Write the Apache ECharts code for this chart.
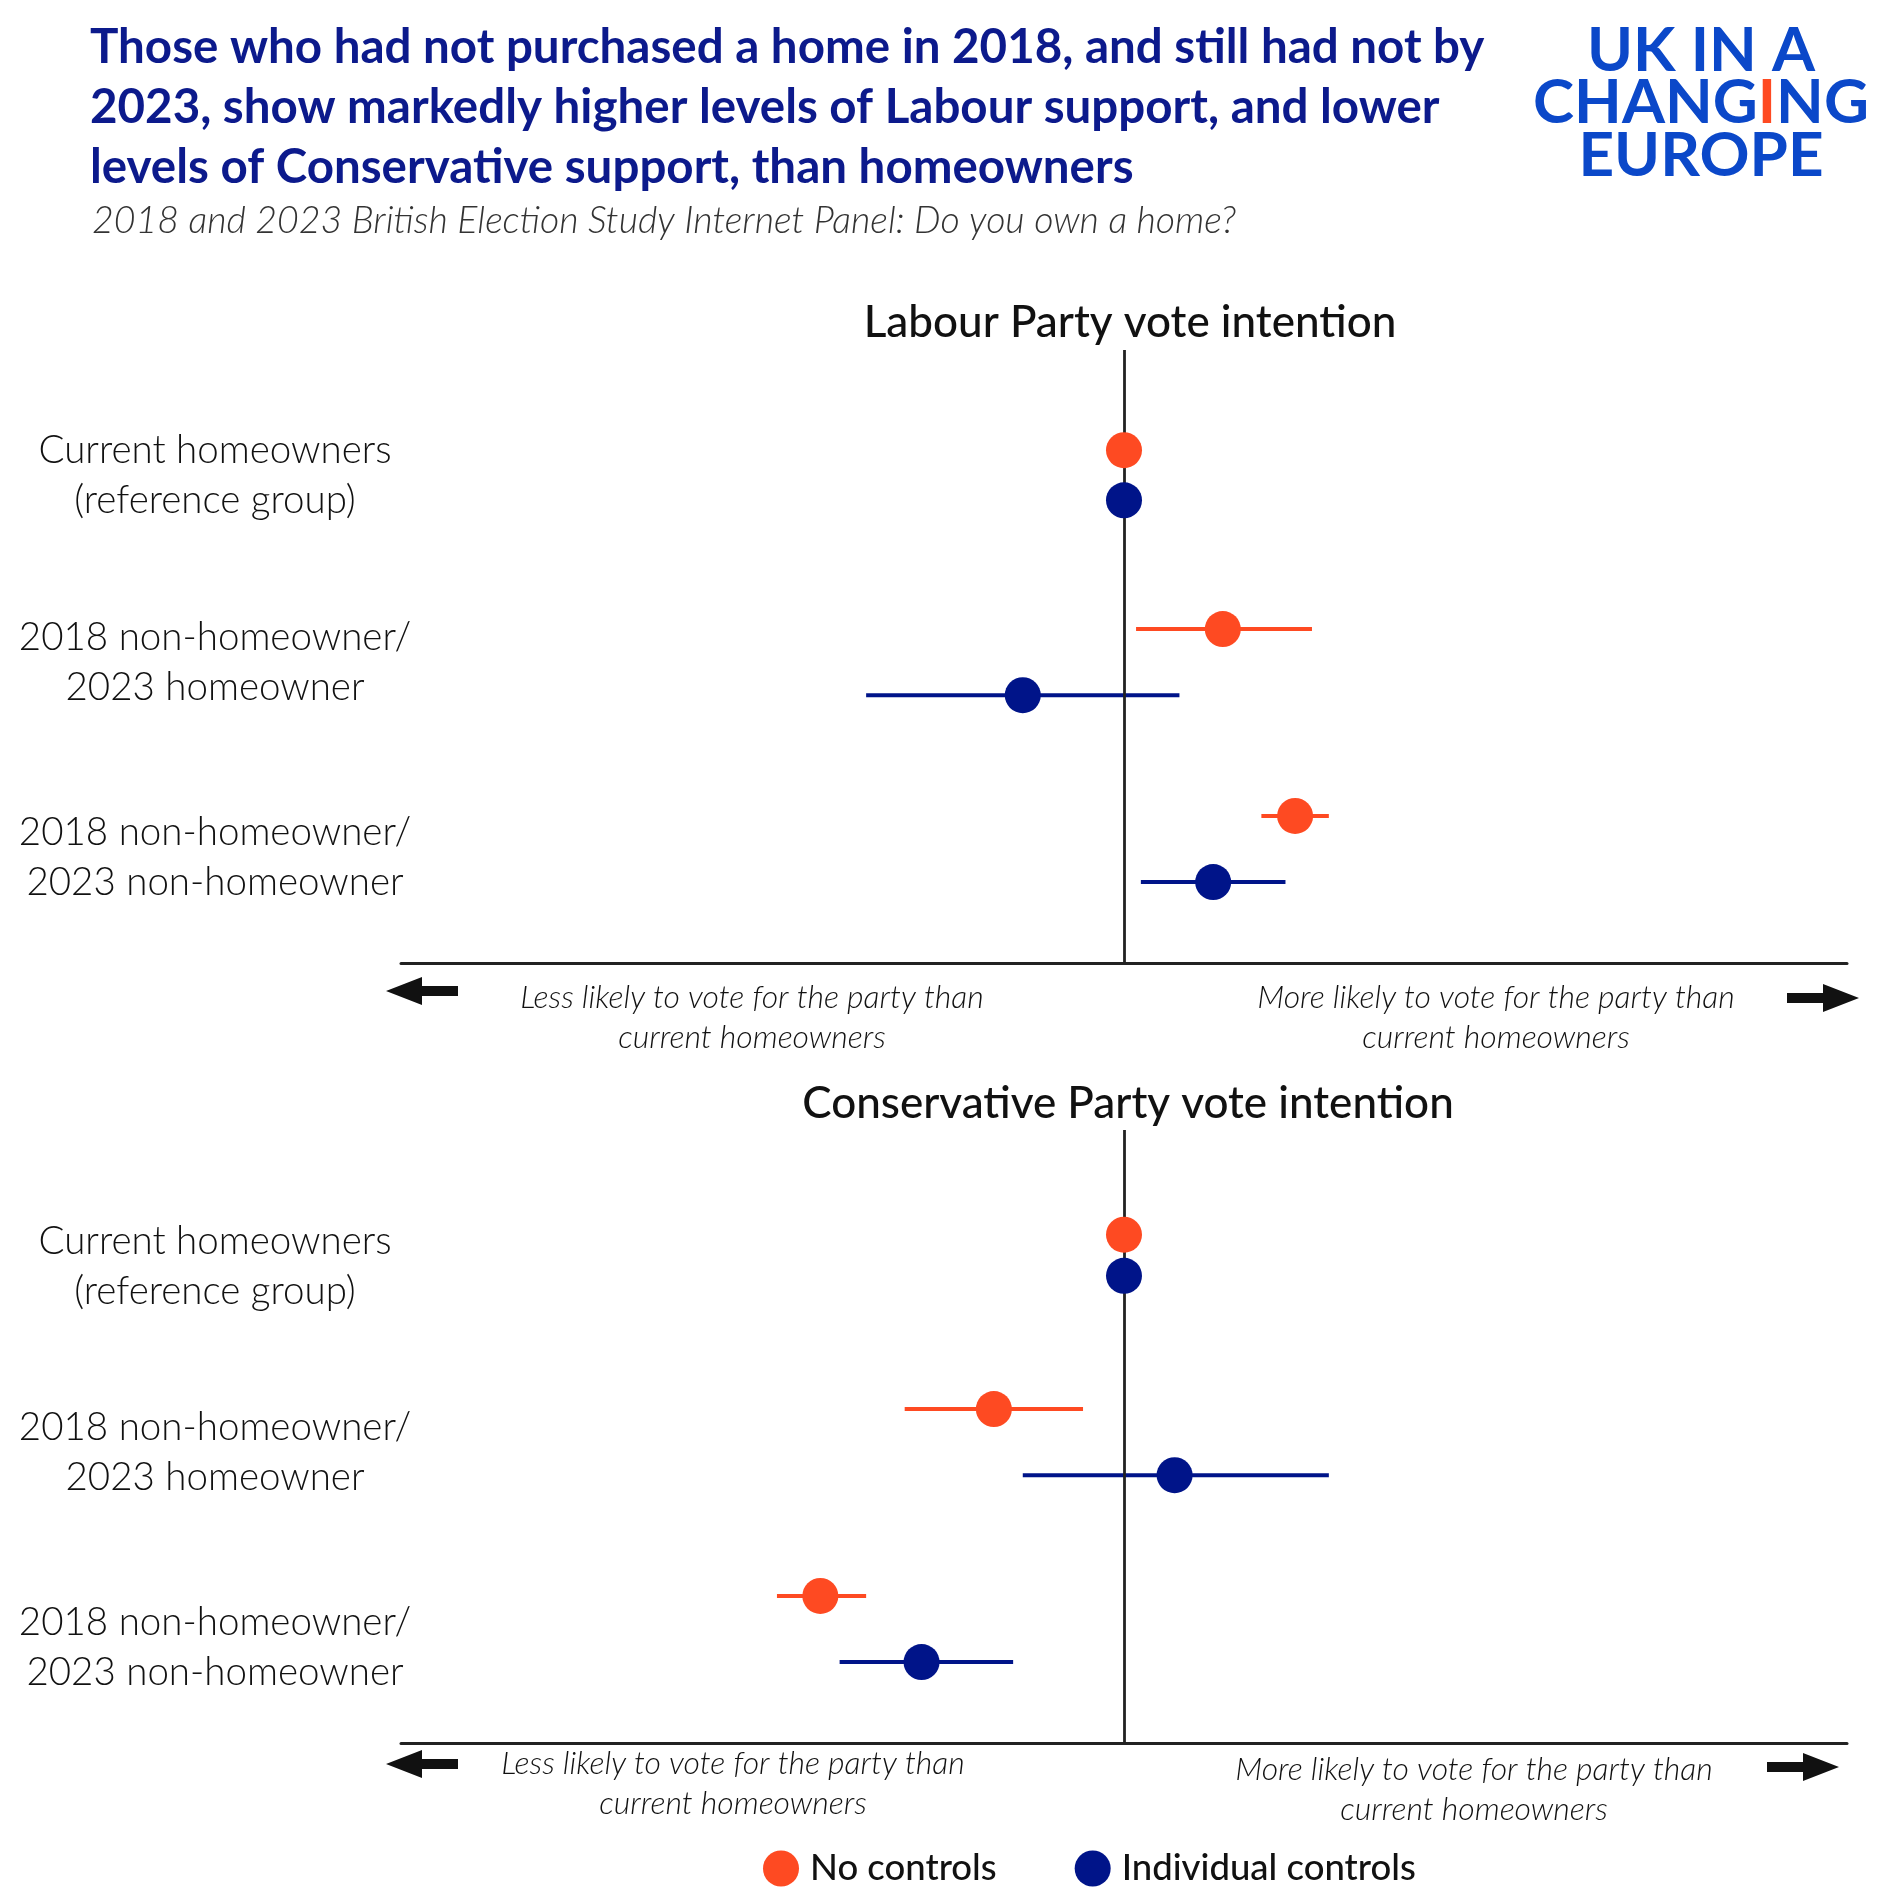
<!DOCTYPE html>
<html>
<head>
<meta charset="utf-8">
<title>Homeownership and vote intention</title>
<script src="https://cdn.jsdelivr.net/npm/echarts@6/dist/echarts.min.js"></script>
<style>
  html, body { margin: 0; padding: 0; background: #fff; }
  #chart { width: 1890px; height: 1890px; }
</style>
</head>
<body>
<div id="chart"></div>
<script>
// 分组标签
const groups = [
  'Current homeowners\n(reference group)',
  '2018 non-homeowner/\n2023 homeowner',
  '2018 non-homeowner/\n2023 non-homeowner'
]

// Labour: 点估计和置信区间（相对于现有房主）
const labourNoControls = [0, 0.041, 0.071]
const labourNoControlsLow = [null, 0.005, 0.057]
const labourNoControlsHigh = [null, 0.078, 0.085]
const labourIndividual = [0, -0.042, 0.037]
const labourIndividualLow = [null, -0.107, 0.007]
const labourIndividualHigh = [null, 0.023, 0.067]

// Conservative
const consNoControls = [0, -0.054, -0.126]
const consNoControlsLow = [null, -0.091, -0.144]
const consNoControlsHigh = [null, -0.017, -0.107]
const consIndividual = [0, 0.021, -0.084]
const consIndividualLow = [null, -0.042, -0.118]
const consIndividualHigh = [null, 0.085, -0.046]

const ORANGE = '#fe4a22'
const BLUE = '#001489'
const FONT = 'Lato'

const chart = echarts.init(document.getElementById('chart'))

// 同组内两个点的上下偏移
const pairGap = [[0.134, 0.177, 0.177], [0.11, 0.177, 0.177]]
// 标签的微调位置
const labelPos = [[0, 0, 0.045], [0.06, 0.055, 0.1]]

function points (values, panel, sign) {
  return values.map((v, i) => [v, i + sign * pairGap[panel][i]])
}

function bars (low, high, panel, sign) {
  const out = []
  low.forEach((l, i) => {
    if (l !== null) out.push([l, high[i], i + sign * pairGap[panel][i]])
  })
  return out
}

function errorBars (name, data, idx, color) {
  return {
    type: 'custom',
    name: name,
    xAxisIndex: idx,
    yAxisIndex: idx,
    z: 3,
    silent: true,
    encode: { x: [0, 1], y: 2 },
    data: data,
    renderItem: function (params, api) {
      const y = api.value(2)
      const a = api.coord([api.value(0), y])
      const b = api.coord([api.value(1), y])
      return {
        type: 'line',
        shape: { x1: a[0], y1: a[1], x2: b[0], y2: b[1] },
        style: { stroke: color, lineWidth: 4 }
      }
    }
  }
}

function dots (name, data, idx, color) {
  return {
    type: 'scatter',
    name: name,
    xAxisIndex: idx,
    yAxisIndex: idx,
    z: 5,
    symbol: 'circle',
    symbolSize: 36,
    itemStyle: { color: color, opacity: 1 },
    data: data
  }
}

function zeroLine (idx) {
  return {
    type: 'scatter',
    name: 'zero' + idx,
    xAxisIndex: idx,
    yAxisIndex: idx,
    z: 1,
    data: [],
    markLine: {
      silent: true,
      symbol: 'none',
      label: { show: false },
      lineStyle: { color: '#222', width: 2.8, type: 'solid' },
      data: [{ xAxis: 0 }]
    }
  }
}

function xAxisDef (idx) {
  return {
    gridIndex: idx,
    type: 'value',
    min: -0.3,
    max: 0.3,
    axisLine: { show: true, onZero: false, lineStyle: { color: '#222', width: 3 } },
    axisTick: { show: false },
    axisLabel: { show: false },
    splitLine: { show: false }
  }
}

function yAxisDef (idx) {
  return {
    gridIndex: idx,
    type: 'value',
    inverse: true,
    min: -0.67,
    max: 2.61,
    axisLine: { show: false, onZero: false },
    axisTick: { show: false },
    splitLine: { show: false },
    axisLabel: {
      customValues: labelPos[idx].map((d, i) => i + d),
      formatter: function (v) { return groups[Math.round(v)] },
      align: 'center',
      margin: 186,
      fontFamily: FONT,
      fontWeight: 300,
      fontSize: 38.5,
      lineHeight: 50,
      color: '#111'
    }
  }
}

function arrow (tipX, y, dir) {
  // dir = -1 向左, 1 向右
  const head = 36
  const len = 72
  const pts = [
    [tipX, y],
    [tipX - dir * head, y - 14],
    [tipX - dir * head, y - 5],
    [tipX - dir * len, y - 5],
    [tipX - dir * len, y + 5],
    [tipX - dir * head, y + 5],
    [tipX - dir * head, y + 14]
  ]
  return { type: 'polygon', shape: { points: pts }, style: { fill: '#111' }, silent: true }
}

function note (x, y, text) {
  return {
    type: 'text',
    x: x,
    y: y,
    silent: true,
    style: {
      text: text,
      align: 'center',
      verticalAlign: 'middle',
      fontFamily: FONT,
      fontStyle: 'italic',
      fontWeight: 300,
      fontSize: 32,
      lineHeight: 40,
      fill: '#111'
    }
  }
}

function label (x, y, text, size, weight, color, align) {
  return {
    type: 'text',
    x: x,
    y: y,
    silent: true,
    style: {
      text: text,
      align: align || 'center',
      verticalAlign: 'middle',
      fontFamily: FONT,
      fontWeight: weight,
      fontSize: size,
      fill: color
    }
  }
}

const less = 'Less likely to vote for the party than\ncurrent homeowners'
const more = 'More likely to vote for the party than\ncurrent homeowners'
const LOGO = '#0b48c9'

const option = {
  backgroundColor: '#fff',
  animation: false,
  textStyle: { fontFamily: FONT },
  grid: [
    { left: 401, right: 43, top: 350, height: 613 },
    { left: 401, right: 43, top: 1130, height: 613 }
  ],
  xAxis: [xAxisDef(0), xAxisDef(1)],
  yAxis: [yAxisDef(0), yAxisDef(1)],
  legend: {
    data: ['No controls', 'Individual controls'],
    left: 758,
    top: 1845,
    icon: 'circle',
    itemWidth: 36,
    itemHeight: 36,
    itemGap: 78,
    selectedMode: false,
    textStyle: { fontFamily: FONT, fontSize: 36.5, fontWeight: 500, color: '#111', padding: [0, 0, 0, 6] }
  },
  series: [
    zeroLine(0),
    zeroLine(1),
    errorBars('labourNoBars', bars(labourNoControlsLow, labourNoControlsHigh, 0, -1), 0, ORANGE),
    errorBars('labourIndBars', bars(labourIndividualLow, labourIndividualHigh, 0, 1), 0, BLUE),
    errorBars('consNoBars', bars(consNoControlsLow, consNoControlsHigh, 1, -1), 1, ORANGE),
    errorBars('consIndBars', bars(consIndividualLow, consIndividualHigh, 1, 1), 1, BLUE),
    dots('No controls', points(labourNoControls, 0, -1), 0, ORANGE),
    dots('Individual controls', points(labourIndividual, 0, 1), 0, BLUE),
    dots('No controls', points(consNoControls, 1, -1), 1, ORANGE),
    dots('Individual controls', points(consIndividual, 1, 1), 1, BLUE)
  ],
  graphic: [
    {
      type: 'text',
      left: 90,
      top: 18,
      silent: true,
      style: {
        text: 'Those who had not purchased a home in 2018, and still had not by\n2023, show markedly higher levels of Labour support, and lower\nlevels of Conservative support, than homeowners',
        fontFamily: FONT,
        fontWeight: 700,
        fontSize: 47.5,
        lineHeight: 60,
        fill: '#0c1a8c'
      }
    },
    {
      type: 'text',
      left: 92,
      top: 200,
      silent: true,
      style: {
        text: '2018 and 2023 British Election Study Internet Panel: Do you own a home?',
        fontFamily: FONT,
        fontStyle: 'italic',
        fontWeight: 300,
        fontSize: 37.5,
        lineHeight: 42,
        fill: '#333'
      }
    },
    // 右上角标志
    label(1701, 51, 'UK IN A', 62, 700, LOGO),
    {
      type: 'text',
      x: 1701,
      y: 103,
      silent: true,
      style: {
        text: '{b|CHANG}{o|I}{b|NG}',
        align: 'center',
        verticalAlign: 'middle',
        rich: {
          b: { fontFamily: FONT, fontWeight: 700, fontSize: 62, fill: LOGO },
          o: { fontFamily: FONT, fontWeight: 700, fontSize: 62, fill: ORANGE }
        }
      }
    },
    label(1701, 156, 'EUROPE', 62, 700, LOGO),
    label(1130, 323, 'Labour Party vote intention', 44, 500, '#111'),
    label(1128, 1104, 'Conservative Party vote intention', 44, 500, '#111'),
    note(752, 1018, less),
    note(1496, 1018, more),
    note(733, 1784, less),
    note(1474, 1790, more),
    arrow(386, 991, -1),
    arrow(1859, 998, 1),
    arrow(386, 1764, -1),
    arrow(1839, 1767, 1)
  ]
}

chart.setOption(option)
</script>
</body>
</html>
